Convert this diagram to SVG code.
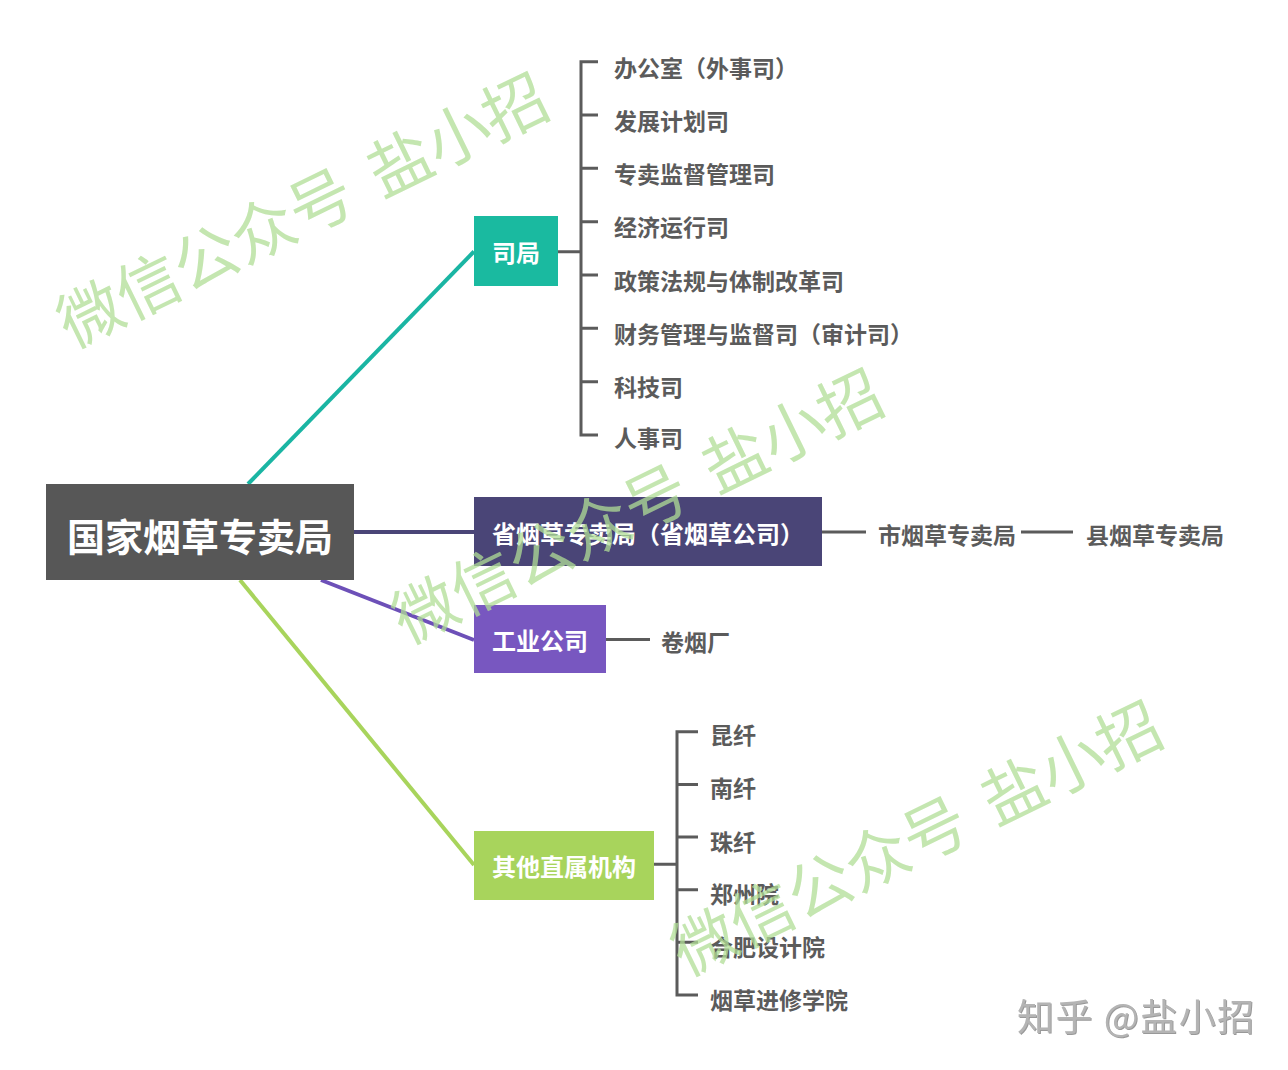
<svg xmlns="http://www.w3.org/2000/svg" width="1288" height="1070" viewBox="0 0 1288 1070">
<defs>
<style>
.t{font-family:"Noto Sans CJK SC","Noto Sans",sans-serif;font-weight:700;dominant-baseline:central}
.leaf{font-size:23px;fill:#5B5B5B}
.box{font-size:24px;fill:#FFFFFF}
.gl{stroke:#5B5B5B;stroke-width:3;fill:none}
.wm{font-family:"Noto Sans CJK SC","Noto Sans",sans-serif;font-weight:400;font-size:64px;fill:#B0DE96;fill-opacity:0.75;word-spacing:10px}
.zh{font-family:"Noto Sans CJK SC","Noto Sans",sans-serif;font-weight:400;font-size:37px;fill:#B4B4B4;letter-spacing:1.5px}
</style>
<filter id="emb" x="-5%" y="-20%" width="110%" height="140%">
<feDropShadow dx="1" dy="1" stdDeviation="0.4" flood-color="#808080" flood-opacity="0.8"/>
</filter>
</defs>
<rect width="1288" height="1070" fill="#FFFFFF"/>

<g id="connectors">
<line x1="248" y1="484" x2="474" y2="251.5" stroke="#1AB5A3" stroke-width="4"/>
<line x1="354" y1="532" x2="474" y2="532" stroke="#4A4577" stroke-width="4"/>
<line x1="321" y1="580" x2="474" y2="640" stroke="#6D50B8" stroke-width="4"/>
<line x1="240" y1="580" x2="474" y2="865" stroke="#A8D45C" stroke-width="4"/>
<path class="gl" d="M558 251.7H581M598 61.7H581V435H598M581 115H598M581 168.3H598M581 221.7H598M581 275H598M581 328.3H598M581 381.7H598"/>
<path class="gl" d="M654 864.3H677M698 731.7H677V995H698M677 784.4H698M677 837H698M677 889.7H698M677 942.3H698"/>
<path class="gl" d="M822 532H866M1021 532H1073"/>
<path class="gl" d="M606 639.5H650"/>
</g>

<g id="root">
<rect x="46" y="484" width="308" height="96" fill="#575757"/>
<text class="t" x="200" y="534" font-size="38" fill="#FFFFFF" text-anchor="middle">国家烟草专卖局</text>
</g>

<g id="sijv">
<rect x="474" y="216" width="84" height="70" fill="#1ABAA0"/>
<text class="t box" x="492" y="251">司局</text>
</g>
<g id="prov">
<rect x="474" y="497" width="348" height="69" fill="#4A4577"/>
<text class="t box" x="492" y="532.5">省烟草专卖局（省烟草公司）</text>
</g>
<g id="industry">
<rect x="474" y="605" width="132" height="68" fill="#7857C0"/>
<text class="t box" x="492" y="639.5">工业公司</text>
</g>
<g id="others">
<rect x="474" y="831" width="180" height="69" fill="#A8D45C"/>
<text class="t box" x="492" y="865.5">其他直属机构</text>
</g>

<g id="s1"><text class="t leaf" x="614" y="66.5">办公室（外事司）</text></g>
<g id="s2"><text class="t leaf" x="614" y="119.5">发展计划司</text></g>
<g id="s3"><text class="t leaf" x="614" y="173">专卖监督管理司</text></g>
<g id="s4"><text class="t leaf" x="614" y="226">经济运行司</text></g>
<g id="s5"><text class="t leaf" x="614" y="279.5">政策法规与体制改革司</text></g>
<g id="s6"><text class="t leaf" x="614" y="332.5">财务管理与监督司（审计司）</text></g>
<g id="s7"><text class="t leaf" x="614" y="385.5">科技司</text></g>
<g id="s8"><text class="t leaf" x="614" y="437">人事司</text></g>

<g id="city"><text class="t leaf" x="878" y="534">市烟草专卖局</text></g>
<g id="county"><text class="t leaf" x="1086" y="534">县烟草专卖局</text></g>
<g id="factory"><text class="t leaf" x="661" y="640.5">卷烟厂</text></g>

<g id="o1"><text class="t leaf" x="710" y="734">昆纤</text></g>
<g id="o2"><text class="t leaf" x="710" y="787">南纤</text></g>
<g id="o3"><text class="t leaf" x="710" y="840.5">珠纤</text></g>
<g id="o4"><text class="t leaf" x="710" y="893">郑州院</text></g>
<g id="o5"><text class="t leaf" x="710" y="945.5">合肥设计院</text></g>
<g id="o6"><text class="t leaf" x="710" y="998.5">烟草进修学院</text></g>

<g id="watermarks">
<text class="wm" x="72" y="349" transform="rotate(-26 72 349)">微信公众号 盐小招</text>
<text class="wm" x="407" y="645" transform="rotate(-26 407 645)">微信公众号 盐小招</text>
<text class="wm" x="686" y="977" transform="rotate(-26 686 977)">微信公众号 盐小招</text>
<text class="zh" x="1017" y="1031" filter="url(#emb)">知乎 @盐小招</text>
</g>
</svg>
